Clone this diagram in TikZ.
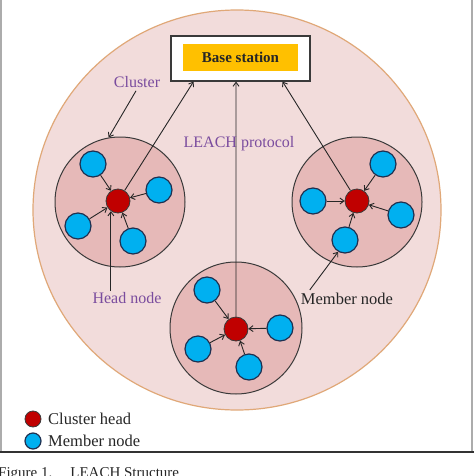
\documentclass[tikz,border=0pt]{standalone}
\usepackage{fontspec}
\setmainfont{Liberation Serif}
\usetikzlibrary{arrows.meta,calc}
\definecolor{worldfill}{HTML}{F2DCDB}
\definecolor{worldline}{HTML}{E0A878}
\definecolor{clusterfill}{HTML}{E6B9B8}
\definecolor{edgecol}{HTML}{3A3A3A}
\definecolor{headred}{HTML}{C00000}
\definecolor{memberblue}{HTML}{00B0F0}
\definecolor{memberline}{HTML}{1F3050}
\definecolor{labelpurple}{HTML}{7A4C9E}
\definecolor{bsyellow}{HTML}{FFC000}
\tikzset{
  clusterdisc/.style={circle, draw=edgecol, fill=clusterfill, line width=1pt, minimum size=130pt, inner sep=0pt},
  headdot/.style={circle, draw=edgecol, fill=headred, line width=0.8pt, minimum size=24pt, inner sep=0pt},
  memberdot/.style={circle, draw=memberline, fill=memberblue, line width=1.2pt, minimum size=26pt, inner sep=0pt},
  arr/.style={draw=black!85, line width=0.9pt, -{Straight Barb[length=4pt,width=6pt]}},
  purplelabel/.style={text=labelpurple, font=\fontsize{16}{18}\selectfont, inner sep=1pt},
  blacklabel/.style={text=black!85, font=\fontsize{16.5}{19}\selectfont, inner sep=1pt},
}
\begin{document}
\begin{tikzpicture}[x=1pt,y=-1pt]
\useasboundingbox (0,0) rectangle (474,476);
\clip (0,0) rectangle (474,476);
\fill[white] (0,0) rectangle (474,476);
% frame
\draw[gray!65, line width=2pt] (1,0) -- (1,452);
\draw[gray!65, line width=2pt] (472,0) -- (472,452);
\draw[black!80, line width=2.2pt] (0,452) -- (474,452);
% world
\draw[draw=worldline, fill=worldfill, line width=1.2pt] (237,210) ellipse [x radius=204, y radius=200];
% base station
\node[draw=edgecol, fill=white, line width=1.2pt, minimum width=139pt, minimum height=45pt, inner sep=0pt] (bs) at (240.5,58.5) {};
\node[fill=bsyellow, minimum width=115pt, minimum height=27pt, inner sep=0pt, text=black!85, font=\bfseries\fontsize{15}{17}\selectfont] (bsin) at (240.5,57.5) {Base station};
% clusters
\node[clusterdisc] (cl1) at (120,202) {};
\node[clusterdisc] (cl2) at (357,202) {};
\node[clusterdisc, minimum size=132pt] (cl3) at (236,328) {};
% heads
\node[headdot] (h1) at (118,201) {};
\node[headdot] (h2) at (357,201) {};
\node[headdot] (h3) at (236,329) {};
% members cluster 1
\node[memberdot] (m11) at (93,164) {};
\node[memberdot] (m12) at (159,190) {};
\node[memberdot] (m13) at (78,226) {};
\node[memberdot] (m14) at (133,241) {};
% members cluster 2
\node[memberdot] (m21) at (383,164) {};
\node[memberdot] (m22) at (313,201) {};
\node[memberdot] (m23) at (401,215) {};
\node[memberdot] (m24) at (345,240) {};
% members cluster 3
\node[memberdot] (m31) at (207,290) {};
\node[memberdot] (m32) at (280,328) {};
\node[memberdot] (m33) at (198,349) {};
\node[memberdot] (m34) at (249,367) {};
% member -> head arrows
\foreach \c in {1,2,3}{
  \foreach \m in {1,2,3,4}{
    \draw[arr] (m\c\m) -- (h\c);
  }
}
% head -> base station
\draw[arr] (h1) -- ($(bs.south west)!0.165!(bs.south east)$);
\draw[arr] (h3) -- ($(bs.south west)!0.468!(bs.south east)$);
\draw[arr] (h2) -- ($(bs.south west)!0.80!(bs.south east)$);
% labels
\node[purplelabel] (lcl) at (137,82) {Cluster};
\draw[arr] ($(lcl.south)+(-1,2)$) -- (cl1.100);
\node[purplelabel] (lp) at (239,144) {LEACH protocol};
\node[purplelabel] (lhn) at (127,298) {Head node};
\draw[arr] (h1.235 |- lhn.north) -- (h1.235);
\node[blacklabel] (lmn) at (347,299) {Member node};
\draw[arr] ($(lmn.north west)+(10,-2)$) -- (m24.240);
% legend
\node[circle, draw=edgecol, fill=headred, line width=0.8pt, minimum size=16pt, inner sep=0pt] (lgh) at (33,419) {};
\node[blacklabel, anchor=west] (lgth) at (47,419) {Cluster head};
\node[circle, draw=memberline, fill=memberblue, line width=1.2pt, minimum size=16pt, inner sep=0pt] (lgm) at (33,441) {};
\node[blacklabel, anchor=west] (lgtm) at (47,441) {Member node};
% caption (cut off by the page edge, as in the reference)
\node[anchor=north west, inner sep=0pt, text=black!85, font=\fontsize{15}{17}\selectfont] (cap) at (-2,467) {Figure 1.\hspace{18pt}LEACH Structure};
\end{tikzpicture}
\end{document}
